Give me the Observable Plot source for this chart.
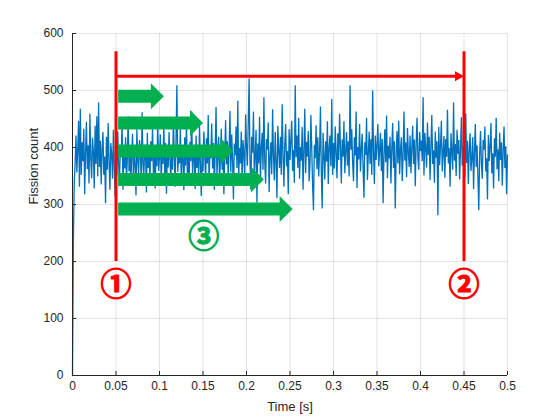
<!DOCTYPE html>
<html><head><meta charset="utf-8">
<script src="https://cdn.jsdelivr.net/npm/d3@7"></script>
<script src="https://cdn.jsdelivr.net/npm/@observablehq/plot@0.6"></script>
<style>body{margin:0;background:#fff;}</style>
</head><body><div id="chart"></div>
<script>
// Fission count series, sampled evenly over 0 … 0.5 s
const fissionCount = [
0,235,338,372,421,356,398,447,331,468,
352,409,376,433,318,391,445,362,404,337,
459,381,346,417,392,328,438,371,455,349,
479,366,412,335,398,427,352,384,302,419,
361,443,374,326,408,389,345,431,367,314,
396,352,428,371,339,404,385,447,326,392,
363,418,341,379,455,358,401,333,386,424,
347,398,369,316,432,377,354,413,391,338,
462,372,349,405,387,321,426,364,395,342,
411,376,436,353,389,328,402,367,448,359,
384,423,337,396,371,441,352,408,319,389,
365,427,378,343,403,361,452,386,331,415,
509,357,394,372,436,341,399,382,325,418,
368,447,355,391,337,410,376,463,349,397,
383,327,421,364,405,346,439,372,315,394,
358,428,387,341,416,372,457,335,399,381,
442,363,408,326,394,471,352,385,419,340,
376,433,361,402,318,389,448,370,411,347,
395,464,356,423,378,309,407,386,437,364,
482,345,399,372,428,334,413,391,351,458,
402,368,443,521,376,327,419,391,463,348,
385,431,303,407,372,454,339,398,426,361,
488,374,337,415,396,444,322,381,409,353,
467,386,342,427,375,311,438,397,364,419,
352,476,389,331,405,441,367,394,318,432,
378,413,447,359,396,338,509,383,421,364,
452,345,401,377,436,326,392,468,355,410,
384,429,341,372,457,398,332,290,405,381,
439,362,418,349,393,472,357,293,426,388,
344,411,375,446,336,399,421,367,485,352,
408,363,437,391,346,425,378,459,402,337,
414,384,446,355,392,427,368,411,349,509,
396,432,373,341,418,386,463,329,401,379,
441,358,397,424,366,312,409,387,452,343,
389,428,371,415,352,500,393,336,421,378,
404,441,367,395,426,359,415,302,388,432,
374,456,346,403,381,419,337,398,443,364,
411,293,386,429,372,447,353,396,418,341,
385,463,377,409,348,434,392,366,421,355,
399,438,371,414,332,406,452,383,361,427,
394,412,376,488,351,426,398,365,444,387,
419,343,402,457,371,395,338,428,382,411,
281,436,369,403,447,358,391,420,347,415,
384,466,372,399,331,425,393,361,479,377,
406,350,431,389,413,344,398,453,368,402,
385,348,460,373,412,336,397,425,359,381,
418,327,392,441,366,404,351,290,388,429,
372,345,413,396,437,358,381,309,422,376,
401,443,355,390,328,416,384,452,362,397,
341,426,378,409,333,395,437,364,402,318,387
];
const tStart = 0, tEnd = 0.5;

const xTicks = [0, 0.05, 0.1, 0.15, 0.2, 0.25, 0.3, 0.35, 0.4, 0.45, 0.5];
const yTicks = [0, 100, 200, 300, 400, 500, 600];
const xLabel = "Time [s]";
const yLabel = "Fission count";

// red markers
const markerTimes = [0.05, 0.45];
const markerLabels = ["①", "②"];
const markerBottom = 200, markerTop = 568;
const markerLabelLevel = 158;
const spanStart = 0.05, spanEnd = 0.45, spanLevel = 525;

// green arrows
const greenStart = 0.053;
const greenTips = [0.105, 0.15, 0.185, 0.22, 0.253];
const greenLevels = [490, 443, 394, 344, 292];
const greenLabel = "③", greenLabelTime = 0.151, greenLabelLevel = 242;

const n = fissionCount.length;
const series = fissionCount.map((v, i) => ({t: tStart + i * (tEnd - tStart) / (n - 1), v}));
const greenArrows = greenTips.map((tip, i) => ({x1: greenStart, x2: tip, y: greenLevels[i]}));
const markers = markerTimes.map((t, i) => ({t, label: markerLabels[i]}));
const span = [{x1: spanStart, x2: spanEnd, y: spanLevel}];

const RED = "#ff0000", GREEN = "#00b050", BLUE = "#0072BD", INK = "#262626";
const fmt = d => String(+d.toFixed(2));
const headSymbol = {draw(ctx) { ctx.moveTo(0, 0); ctx.lineTo(-13, -13); ctx.lineTo(-13, 13); ctx.closePath(); }};
const smallHead = {draw(ctx) { ctx.moveTo(0, 0); ctx.lineTo(-9, -5); ctx.lineTo(-9, 5); ctx.closePath(); }};
const circled = {fontSize: 31, fontWeight: "bold", strokeWidth: 1.1, fontFamily: "'Noto Sans CJK JP', 'DejaVu Sans', sans-serif"};

const chart = Plot.plot({
  width: 560, height: 420,
  marginLeft: 72, marginRight: 53, marginTop: 33, marginBottom: 45,
  style: {background: "#fff", fontFamily: "'Liberation Sans', Arial, sans-serif", fontSize: "12px", color: INK},
  x: {domain: [0, 0.5], label: null},
  y: {domain: [0, 600], label: null},
  marks: [
    Plot.gridX(xTicks, {stroke: INK, strokeOpacity: 0.13}),
    Plot.gridY(yTicks, {stroke: INK, strokeOpacity: 0.13}),
    Plot.line(series, {x: "t", y: "v", stroke: BLUE, strokeWidth: 1.3, strokeLinejoin: "miter"}),
    Plot.ruleX([0], {stroke: INK, strokeWidth: 1}),
    Plot.ruleY([0], {stroke: INK, strokeWidth: 1}),
    Plot.axisX({ticks: xTicks, tickFormat: fmt, tickSize: -4, tickPadding: 10, stroke: INK, fill: INK, label: null}),
    Plot.axisY({ticks: yTicks, tickSize: -4, tickPadding: 13, stroke: INK, fill: INK, label: null}),
    Plot.text([xLabel], {frameAnchor: "bottom", dy: 35, fontSize: 13, fill: INK}),
    Plot.text([yLabel], {frameAnchor: "left", dx: -39, rotate: -90, fontSize: 13, fill: INK}),
    Plot.ruleY(greenArrows, {y: "y", x1: "x1", x2: "x2", stroke: GREEN, strokeWidth: 13, insetRight: 12}),
    Plot.dot(greenArrows, {x: "x2", y: "y", symbol: headSymbol, fill: GREEN, stroke: "none"}),
    Plot.ruleX(markerTimes, {y1: markerBottom, y2: markerTop, stroke: RED, strokeWidth: 3}),
    Plot.ruleY(span, {x1: "x1", x2: "x2", y: "y", stroke: RED, strokeWidth: 3, insetRight: 7}),
    Plot.dot(span, {x: "x2", y: "y", symbol: smallHead, fill: RED, stroke: "none"}),
    Plot.text(markers, {x: "t", y: () => markerLabelLevel, text: "label", fill: RED, stroke: RED, ...circled}),
    Plot.text([greenLabel], {x: () => greenLabelTime, y: () => greenLabelLevel, text: d => d, fill: GREEN, stroke: GREEN, ...circled})
  ]
});
document.getElementById("chart").appendChild(chart);
</script>
</body></html>
